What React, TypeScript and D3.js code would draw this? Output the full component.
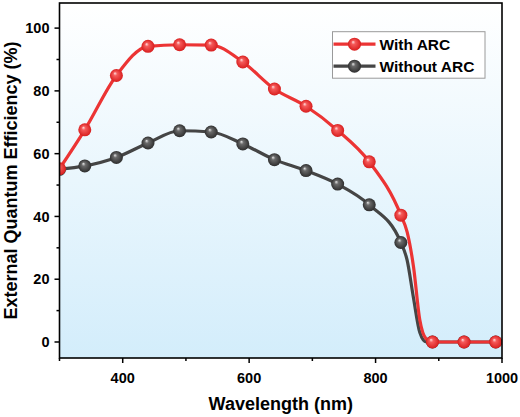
import { useEffect } from 'react';
import * as d3 from 'd3';

// wavelengths (nm) used for the curve; markers only on markerWavelengths
const wavelengths = [300, 340, 390, 440, 490, 540, 590, 640, 690, 740, 790, 840, 850, 860, 870, 880, 890, 940, 990];
const withArc = [55.2, 67.6, 84.9, 94.2, 94.7, 94.6, 89.2, 80.6, 75.1, 67.4, 57.4, 40.4, 35, 24, 7, 1, 0, 0, 0];
const withoutArc = [55, 56.1, 58.8, 63.4, 67.3, 66.9, 63.1, 58.1, 54.6, 50.3, 43.7, 31.7, 26, 14, 3, 0, 0, 0, 0];
const markerWavelengths = [300, 340, 390, 440, 490, 540, 590, 640, 690, 740, 790, 840, 890, 940, 990];

const xTicks = [400, 600, 800, 1000];
const xMinorTicks = [300, 500, 700, 900];
const yTicks = [0, 20, 40, 60, 80, 100];
const yMinorTicks = [10, 30, 50, 70, 90];

interface Pt { w: number; v: number }

const seriesList = [
  { key: 'with', label: 'With ARC', values: withArc, color: '#ec3434', grad: 'ballRed' },
  { key: 'without', label: 'Without ARC', values: withoutArc, color: '#454545', grad: 'ballGray' },
];

export default function App() {
  useEffect(() => {
    document.body.style.margin = '0';
  }, []);

  const width = 520;
  const height = 417;
  const margin = { left: 59.5, right: 18, top: 3, bottom: 59 };
  const innerW = width - margin.left - margin.right;
  const innerH = height - margin.top - margin.bottom;

  const x = d3.scaleLinear().domain([300, 1000]).range([0, innerW]);
  const y = d3.scaleLinear().domain([-5.1, 108]).range([innerH, 0]);

  const line = d3.line<Pt>()
    .x(d => x(d.w))
    .y(d => y(d.v))
    .curve(d3.curveMonotoneX);

  const font = 'Arial, "Liberation Sans", sans-serif';

  return (
    <svg width={width} height={height} style={{ display: 'block', fontFamily: font }}>
      <defs>
        <linearGradient id="bg" x1="0" y1="0" x2="0" y2="1">
          <stop offset="0%" stopColor="#ffffff" />
          <stop offset="100%" stopColor="#d3edfb" />
        </linearGradient>
        <radialGradient id="ballRed" cx="0.5" cy="0.5" r="0.5" fx="0.38" fy="0.32">
          <stop offset="0%" stopColor="#ffe2e2" />
          <stop offset="30%" stopColor="#f55a5a" />
          <stop offset="100%" stopColor="#d81e1e" />
        </radialGradient>
        <radialGradient id="ballGray" cx="0.5" cy="0.5" r="0.5" fx="0.38" fy="0.32">
          <stop offset="0%" stopColor="#e8e8e8" />
          <stop offset="30%" stopColor="#6a6a6a" />
          <stop offset="100%" stopColor="#2e2e2e" />
        </radialGradient>
        <clipPath id="plotClip">
          <rect x={0} y={0} width={innerW} height={innerH} />
        </clipPath>
      </defs>
      <g transform={`translate(${margin.left},${margin.top})`}>
        <rect x={0} y={0} width={innerW} height={innerH} fill="url(#bg)" />

        <g clipPath="url(#plotClip)">
          {[...seriesList].reverse().map(s => {
            const pts: Pt[] = wavelengths.map((w, i) => ({ w, v: s.values[i] }));
            return (
              <g key={s.key}>
                <path d={line(pts) || ''} fill="none" stroke={s.color} strokeWidth={3.2} />
                {pts.filter(p => markerWavelengths.includes(p.w)).map(p => (
                  <circle key={p.w} cx={x(p.w)} cy={y(p.v)} r={6.5} fill={`url(#${s.grad})`} />
                ))}
              </g>
            );
          })}
        </g>

        {/* frame */}
        <rect x={0} y={0} width={innerW} height={innerH} fill="none" stroke="#000" strokeWidth={1.6} />

        {/* x axis ticks */}
        {xTicks.map(t => (
          <g key={t} transform={`translate(${x(t)},${innerH})`}>
            <line y1={0} y2={5} stroke="#000" strokeWidth={1.5} />
            <text y={25} textAnchor="middle" fontSize={14.5} fontWeight="bold">{t}</text>
          </g>
        ))}
        {xMinorTicks.map(t => (
          <line key={t} x1={x(t)} x2={x(t)} y1={innerH} y2={innerH + 3} stroke="#000" strokeWidth={1.5} />
        ))}

        {/* y axis ticks */}
        {yTicks.map(t => (
          <g key={t} transform={`translate(0,${y(t)})`}>
            <line x1={0} x2={-5} stroke="#000" strokeWidth={1.5} />
            <text x={-10} dy="0.36em" textAnchor="end" fontSize={14.5} fontWeight="bold">{t}</text>
          </g>
        ))}
        {yMinorTicks.map(t => (
          <line key={t} x1={0} x2={-3} y1={y(t)} y2={y(t)} stroke="#000" strokeWidth={1.5} />
        ))}

        {/* legend */}
        <g transform="translate(273,28.7)">
          <rect x={0} y={0} width={152.5} height={46.5} fill="#fff" stroke="#9a9a9a" strokeWidth={1} />
          {seriesList.map((s, i) => (
            <g key={s.key} transform={`translate(0,${12.5 + i * 22})`}>
              <line x1={1} x2={43} y1={0} y2={0} stroke={s.color} strokeWidth={3.2} />
              <circle cx={22} cy={0} r={6.5} fill={`url(#${s.grad})`} />
              <text x={47} dy="0.36em" fontSize={15.5} fontWeight="bold">{s.label}</text>
            </g>
          ))}
        </g>
      </g>

      <text x={margin.left + innerW / 2} y={410} textAnchor="middle" fontSize={18} fontWeight="bold">
        Wavelength (nm)
      </text>
      <text
        transform={`translate(17,${margin.top + innerH / 2}) rotate(-90)`}
        textAnchor="middle"
        fontSize={18}
        fontWeight="bold"
      >
        External Quantum Efficiency (%)
      </text>
    </svg>
  );
}
